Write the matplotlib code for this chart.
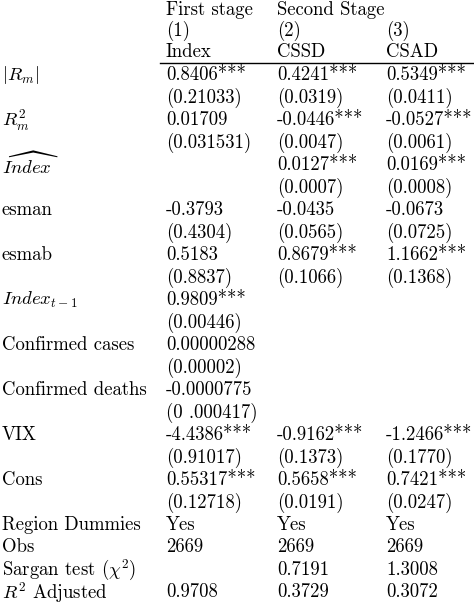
import matplotlib.pyplot as plt

plt.rcParams['font.family'] = ['cmr10', 'DejaVu Serif']
plt.rcParams['mathtext.fontset'] = 'cm'
plt.rcParams['axes.formatter.use_mathtext'] = True

header = [
    ["", "First stage", "Second Stage", ""],
    ["", "(1)", "(2)", "(3)"],
    ["", "Index", "CSSD", "CSAD"],
]

row_labels = [r"$|R_m|$", "", r"$R_m^2$", "", r"$\widehat{Index}$", "",
              "esman", "", "esmab", "", r"$Index_{t-1}$", "",
              "Confirmed cases", "", "Confirmed deaths", "", "VIX", "",
              "Cons", "", "Region Dummies", "Obs", r"Sargan test ($\chi^2$)",
              r"$R^2$ Adjusted"]
col1 = ["0.8406***", "(0.21033)", "0.01709", "(0.031531)", "", "",
        "-0.3793", "(0.4304)", "0.5183", "(0.8837)", "0.9809***", "(0.00446)",
        "0.00000288", "(0.00002)", "-0.0000775", "(0 .000417)",
        "-4.4386***", "(0.91017)", "0.55317***", "(0.12718)",
        "Yes", "2669", "", "0.9708"]
col2 = ["0.4241***", "(0.0319)", "-0.0446***", "(0.0047)", "0.0127***", "(0.0007)",
        "-0.0435", "(0.0565)", "0.8679***", "(0.1066)", "", "",
        "", "", "", "", "-0.9162***", "(0.1373)", "0.5658***", "(0.0191)",
        "Yes", "2669", "0.7191", "0.3729"]
col3 = ["0.5349***", "(0.0411)", "-0.0527***", "(0.0061)", "0.0169***", "(0.0008)",
        "-0.0673", "(0.0725)", "1.1662***", "(0.1368)", "", "",
        "", "", "", "", "-1.2466***", "(0.1770)", "0.7421***", "(0.0247)",
        "Yes", "2669", "1.3008", "0.3072"]

W, H = 474, 603
fig = plt.figure(figsize=(W / 100, H / 100), dpi=100)
ax = fig.add_axes([0, 0, 1, 1])
ax.set_xlim(0, W)
ax.set_ylim(H, 0)
ax.axis('off')

xs = [2, 166, 277, 386]
fs = 13.5

for i, row in enumerate(header):
    y = 10 + i * 21
    for x, t in zip(xs, row):
        ax.text(x, y, t, fontsize=fs, va='center', ha='left')

ax.plot([160, W], [63, 63], color='black', lw=1)

for i in range(len(row_labels)):
    y = 75 + i * 22.5
    for x, t in zip(xs, [row_labels[i], col1[i], col2[i], col3[i]]):
        if t:
            ax.text(x, y, t, fontsize=fs, va='center', ha='left')

fig.savefig('out.png', dpi=100)
